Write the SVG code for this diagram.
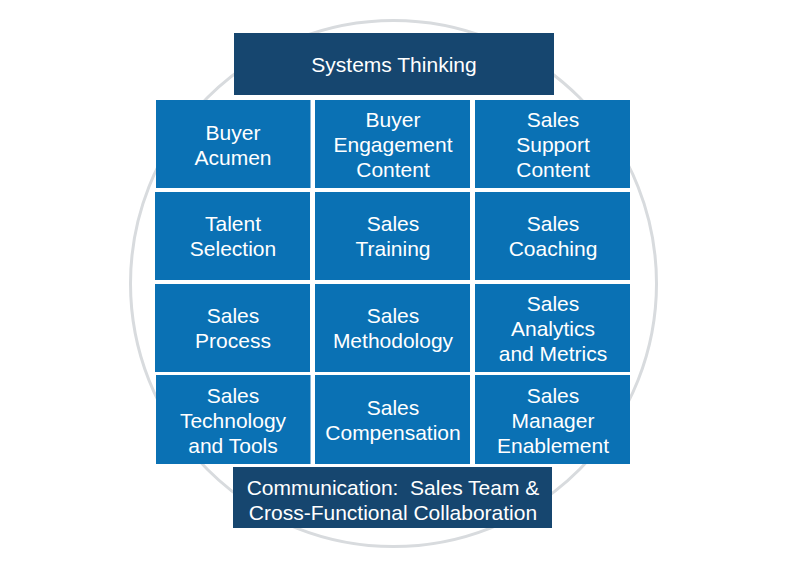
<svg xmlns="http://www.w3.org/2000/svg" width="800" height="570" viewBox="0 0 800 570">
<style>
.b{fill:#0A71B4}
.d{fill:#16466F}
text{font-family:"Liberation Sans",Arial,sans-serif;font-size:21px;fill:#fff;text-anchor:middle}
</style>
<rect width="800" height="570" fill="#fff"/>
<circle cx="393.5" cy="283.5" r="263" fill="none" stroke="#D8DBDE" stroke-width="3"/>
<g id="systems"><rect class="d" x="234" y="33" width="320" height="62"/><text x="394" y="71.5">Systems Thinking</text></g>
<g id="n1"><rect class="b" x="156" y="100" width="154.5" height="88"/><text x="233" y="139.5">Buyer</text><text x="233" y="164.5">Acumen</text></g>
<g id="n2"><rect class="b" x="315" y="100" width="155" height="88"/><text x="393" y="127">Buyer</text><text x="393" y="152">Engagement</text><text x="393" y="177">Content</text></g>
<g id="n3"><rect class="b" x="475" y="100" width="155" height="88"/><text x="553" y="127">Sales</text><text x="553" y="152">Support</text><text x="553" y="177">Content</text></g>
<g id="n4"><rect class="b" x="155" y="192" width="155" height="88"/><text x="233" y="231">Talent</text><text x="233" y="256">Selection</text></g>
<g id="n5"><rect class="b" x="315" y="192" width="155" height="88"/><text x="393" y="231">Sales</text><text x="393" y="256">Training</text></g>
<g id="n6"><rect class="b" x="475" y="192" width="155" height="88"/><text x="553" y="231">Sales</text><text x="553" y="256">Coaching</text></g>
<g id="n7"><rect class="b" x="155" y="284" width="155" height="88"/><text x="233" y="323">Sales</text><text x="233" y="348">Process</text></g>
<g id="n8"><rect class="b" x="315" y="284" width="155" height="88"/><text x="393" y="323">Sales</text><text x="393" y="348">Methodology</text></g>
<g id="n9"><rect class="b" x="475" y="284" width="155" height="88"/><text x="553" y="310.5">Sales</text><text x="553" y="335.5">Analytics</text><text x="553" y="360.5">and Metrics</text></g>
<g id="n10"><rect class="b" x="156" y="375" width="154.5" height="89"/><text x="233" y="402.5">Sales</text><text x="233" y="427.5">Technology</text><text x="233" y="452.5">and Tools</text></g>
<g id="n11"><rect class="b" x="315" y="375" width="155" height="89"/><text x="393" y="415">Sales</text><text x="393" y="440">Compensation</text></g>
<g id="n12"><rect class="b" x="475" y="375" width="155" height="89"/><text x="553" y="402.5">Sales</text><text x="553" y="427.5">Manager</text><text x="553" y="452.5">Enablement</text></g>
<g id="communication"><rect class="d" x="233" y="467" width="319" height="61"/><text x="393" y="494.5" xml:space="preserve">Communication:  Sales Team &amp;</text><text x="393" y="519.5">Cross-Functional Collaboration</text></g>
<g id="connectors"></g>
</svg>
